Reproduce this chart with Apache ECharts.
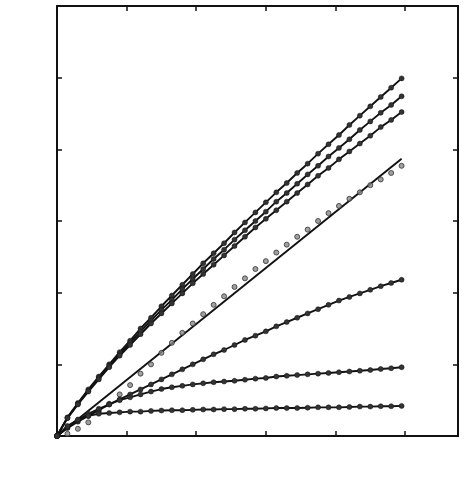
<!DOCTYPE html>
<html>
<head>
<meta charset="utf-8">
<script src="https://cdn.jsdelivr.net/npm/echarts@6/dist/echarts.min.js"></script>
<style>html,body{margin:0;padding:0;background:#fff;}#c{width:474px;height:481px;}</style>
</head>
<body>
<div id="c"></div>
<script>
var xs = [0, 0.15, 0.3, 0.45, 0.6, 0.75, 0.9, 1.05, 1.2, 1.35, 1.5, 1.65, 1.8, 1.95, 2.1, 2.25, 2.4, 2.55, 2.7, 2.85, 3.0, 3.15, 3.3, 3.45, 3.6, 3.75, 3.9, 4.05, 4.2, 4.35, 4.5, 4.65, 4.8, 4.95];
var s1 = [0, 0.26, 0.46, 0.65, 0.83, 1.00, 1.17, 1.33, 1.50, 1.65, 1.81, 1.96, 2.11, 2.26, 2.41, 2.55, 2.69, 2.84, 2.98, 3.12, 3.26, 3.40, 3.53, 3.67, 3.80, 3.94, 4.07, 4.20, 4.34, 4.47, 4.60, 4.73, 4.86, 4.99];
var s2 = [0, 0.25, 0.45, 0.63, 0.81, 0.98, 1.14, 1.30, 1.46, 1.61, 1.76, 1.90, 2.05, 2.19, 2.33, 2.47, 2.60, 2.74, 2.87, 3.00, 3.13, 3.27, 3.39, 3.52, 3.65, 3.77, 3.90, 4.02, 4.14, 4.27, 4.39, 4.51, 4.62, 4.74];
var s3 = [0, 0.25, 0.44, 0.62, 0.79, 0.96, 1.12, 1.27, 1.42, 1.57, 1.71, 1.85, 1.99, 2.13, 2.26, 2.39, 2.52, 2.65, 2.78, 2.91, 3.03, 3.15, 3.27, 3.39, 3.51, 3.63, 3.74, 3.86, 3.97, 4.08, 4.19, 4.31, 4.41, 4.52];
var s4 = [0, 0.03, 0.10, 0.19, 0.33, 0.45, 0.58, 0.71, 0.87, 1.00, 1.16, 1.30, 1.44, 1.57, 1.70, 1.83, 1.95, 2.08, 2.20, 2.33, 2.44, 2.56, 2.67, 2.78, 2.88, 3.00, 3.11, 3.21, 3.31, 3.40, 3.50, 3.58, 3.67, 3.77];
var s4FitX = [0, 4.95];
var s4FitY = [0, 3.87];
var s5 = [0, 0.11, 0.20, 0.28, 0.36, 0.44, 0.51, 0.58, 0.65, 0.72, 0.79, 0.86, 0.93, 1.00, 1.07, 1.14, 1.20, 1.27, 1.34, 1.40, 1.46, 1.53, 1.59, 1.65, 1.71, 1.77, 1.83, 1.89, 1.94, 1.99, 2.04, 2.09, 2.135, 2.18];
var s6 = [0, 0.12, 0.22, 0.31, 0.38, 0.44, 0.50, 0.54, 0.58, 0.62, 0.655, 0.68, 0.70, 0.72, 0.735, 0.75, 0.76, 0.77, 0.785, 0.80, 0.81, 0.83, 0.84, 0.85, 0.86, 0.87, 0.88, 0.89, 0.90, 0.91, 0.92, 0.935, 0.945, 0.96];
var s7 = [0, 0.14, 0.23, 0.28, 0.31, 0.32, 0.33, 0.34, 0.34, 0.35, 0.355, 0.36, 0.36, 0.365, 0.37, 0.37, 0.375, 0.375, 0.38, 0.38, 0.385, 0.39, 0.39, 0.39, 0.395, 0.40, 0.40, 0.40, 0.405, 0.41, 0.41, 0.415, 0.415, 0.42];

function pairs(xa, ya) { return xa.map(function (x, i) { return [x, ya[i]]; }); }

var chart = echarts.init(document.getElementById('c'), null, { renderer: 'canvas' });

var axisCommon = {
  type: 'value',
  interval: 1,
  axisLabel: { show: false },
  splitLine: { show: false },
  axisLine: { show: true, onZero: false, lineStyle: { color: '#111', width: 2 } },
  axisTick: { show: true, inside: true, length: 5, lineStyle: { color: '#111', width: 1.5 } }
};

function lineWithMarks(data) {
  return {
    type: 'line', data: data, showSymbol: true, symbol: 'circle', symbolSize: 5,
    itemStyle: { color: '#333', borderColor: '#111', borderWidth: 0.5 },
    lineStyle: { color: '#111', width: 1.9 },
    z: 3, silent: true
  };
}

var series = [
  lineWithMarks(pairs(xs, s1)),
  lineWithMarks(pairs(xs, s2)),
  lineWithMarks(pairs(xs, s3)),
  {
    type: 'line', data: pairs(s4FitX, s4FitY), showSymbol: false,
    lineStyle: { color: '#111', width: 1.9 }, z: 2, silent: true
  },
  {
    type: 'scatter', data: pairs(xs, s4), symbol: 'circle', symbolSize: 5,
    itemStyle: { color: '#888', borderColor: '#333', borderWidth: 1 }, z: 3, silent: true
  },
  lineWithMarks(pairs(xs, s5)),
  lineWithMarks(pairs(xs, s6)),
  lineWithMarks(pairs(xs, s7))
];

chart.setOption({
  animation: false,
  backgroundColor: '#fff',
  grid: { left: 57, top: 6, width: 401, height: 430, containLabel: false },
  xAxis: [
    Object.assign({}, axisCommon, { position: 'bottom', min: 0, max: 5.76 }),
    Object.assign({}, axisCommon, { position: 'top', min: 0, max: 5.76 })
  ],
  yAxis: [
    Object.assign({}, axisCommon, { position: 'left', min: 0, max: 6 }),
    Object.assign({}, axisCommon, { position: 'right', min: 0, max: 6 })
  ],
  series: series
});
</script>
</body>
</html>
